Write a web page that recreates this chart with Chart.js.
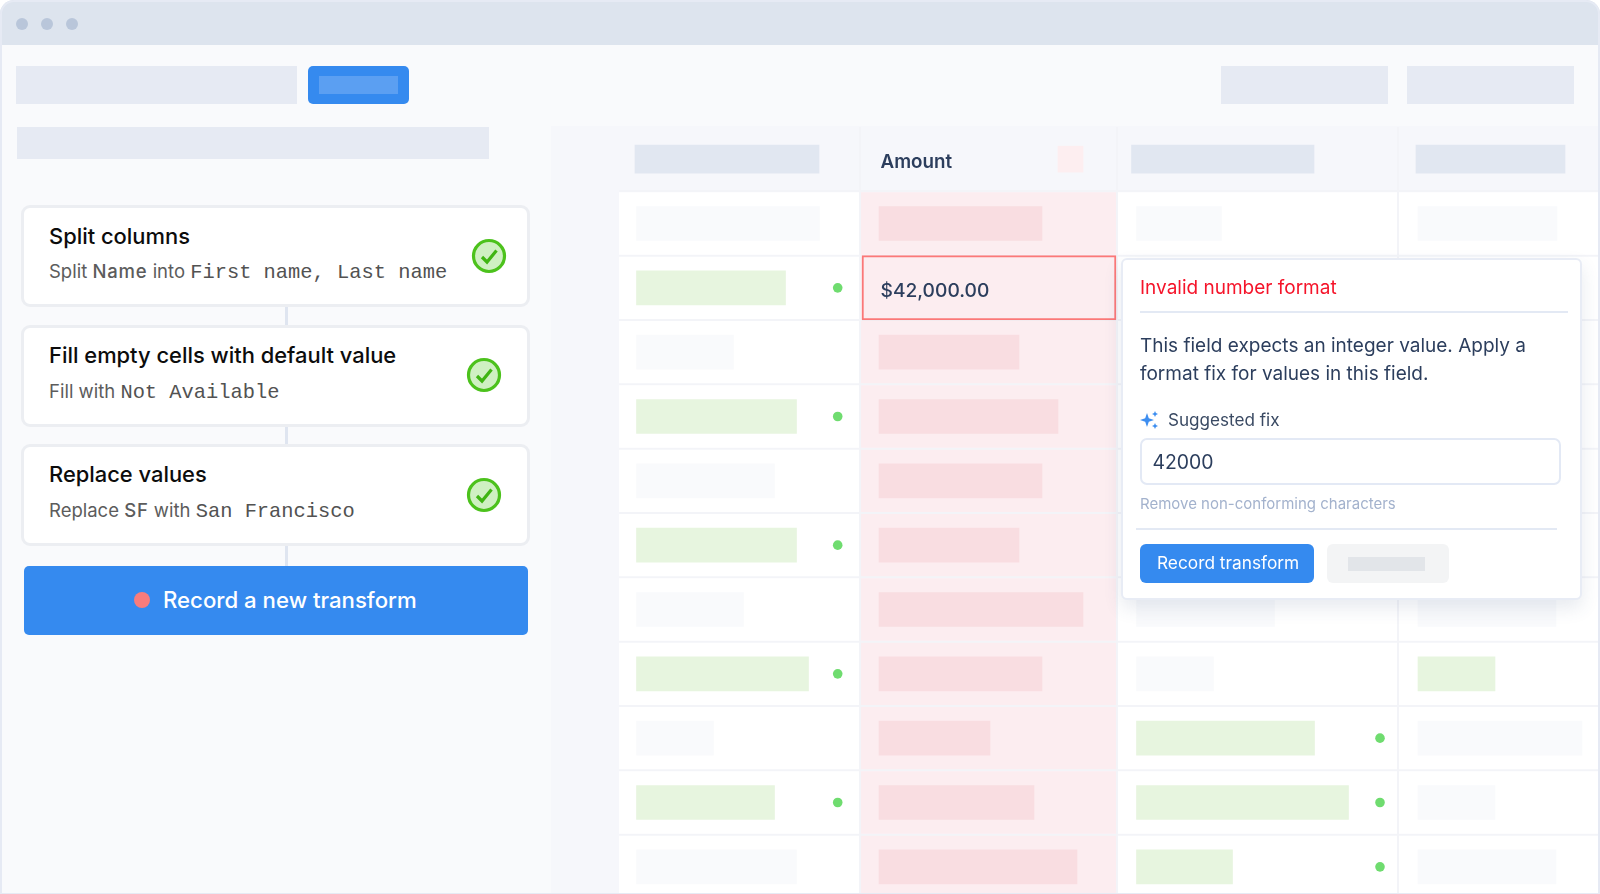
<!DOCTYPE html>
<html>
<head>
<meta charset="utf-8">
<script src="https://cdn.jsdelivr.net/npm/chart.js@4"></script>
<style>
  html, body { margin: 0; width: 1600px; height: 894px; overflow: hidden; background: #fff; font-family: Inter, sans-serif; }
  #app { position: absolute; inset: 0; background: #f9fafc; border-radius: 14px 14px 0 0; overflow: hidden; }
  #app > *, #popover > * { position: absolute; }
  .sk { background: #e6eaf3; }
  .frame { inset: 0; border: 2px solid #e6eaf4; border-bottom-width: 1px; border-radius: 14px 14px 0 0; pointer-events: none; }
  .bar { left: 0; top: 0; width: 1600px; height: 45px; background: #dde4ee; }
  .dot { width: 12px; height: 12px; top: 18px; border-radius: 50%; background: #b9c6da; }
  .tableBg { left: 551px; top: 126px; width: 1049px; height: 768px; background: #f6f7fb; }
  canvas { position: absolute; left: 551px; top: 127px; }
  .card { box-sizing: border-box; left: 21px; width: 509px; height: 102px; background: #fff; border: 3px solid #eceef2; border-radius: 9px; }
  .link { left: 284.5px; width: 3px; height: 22px; background: #dfe5f0; }
  .txt { white-space: nowrap; transform: translateY(-50%); line-height: 1.2; }
  .title { left: 49px; font-size: 21.9px; font-weight: 500; color: #0c0c0c; }
  .sub { left: 49px; font-size: 18.5px; color: #5c5c5c; }
  .sub b { font-weight: 500; letter-spacing: 0.8px; }
  .sub code { font-family: "Liberation Mono", monospace; font-size: 20.4px; color: #525252; }
  .check { width: 36px; height: 36px; }
  .main { left: 23.5px; top: 566px; width: 504.5px; height: 69px; background: #358aef; border-radius: 5px; }
  #popover { left: 1121px; top: 258px; width: 461px; height: 342px; box-sizing: border-box; background: #fff; border: 2px solid #e8ecf5; border-radius: 6px; box-shadow: 0 8px 18px rgba(60,80,120,.12); }
  .hr { height: 2px; background: #e3e9f4; }
  .para { color: #2c3e5d; font-size: 19px; }
</style>
</head>
<body>
<div id="app">
  <div class="bar"></div>
  <div class="dot" style="left:16px"></div><div class="dot" style="left:41px"></div><div class="dot" style="left:66px"></div>

  <div class="sk" style="left:15.5px;top:66px;width:281.5px;height:38px"></div>
  <div style="left:308px;top:66px;width:101px;height:38px;background:#358aef;border-radius:5px"></div>
  <div style="left:319px;top:75.5px;width:79px;height:18px;background:#5b9ff2"></div>
  <div class="sk" style="left:1221px;top:66px;width:167px;height:38px"></div>
  <div class="sk" style="left:1407px;top:66px;width:167px;height:38px"></div>
  <div class="sk" style="left:17px;top:127px;width:472px;height:32px"></div>

  <div class="tableBg"></div>
  <canvas id="tableChart" width="1049" height="772"></canvas>

  <div class="txt" style="left:880.5px;top:162px;font-size:18.8px;font-weight:600;color:#2c3e5d">Amount</div>
  <div class="txt" style="left:880.5px;top:291px;font-size:19.2px;font-weight:500;color:#2c3e5d">$42,000.00</div>

  <div class="link" style="top:305px"></div>
  <div class="link" style="top:425px"></div>
  <div class="link" style="top:545px"></div>

  <div class="card" style="top:205px"></div>
  <div class="txt title" style="top:236px">Split columns</div>
  <div class="txt sub" style="top:273px">Split <b>Name</b> into <code>First name, Last name</code></div>
  <svg class="check" style="left:471px;top:238px" viewBox="0 0 36 36"><circle cx="18" cy="18" r="15.5" fill="#cff0c2" stroke="#4cc21c" stroke-width="3.2"/><path d="M11 19l5 5 9.500-11.500" fill="none" stroke="#3fb512" stroke-width="3.2"/></svg>

  <div class="card" style="top:324.5px"></div>
  <div class="txt title" style="top:355px">Fill empty cells with default value</div>
  <div class="txt sub" style="top:393px">Fill with <code>Not Available</code></div>
  <svg class="check" style="left:466px;top:357px" viewBox="0 0 36 36"><circle cx="18" cy="18" r="15.5" fill="#cff0c2" stroke="#4cc21c" stroke-width="3.2"/><path d="M11 19l5 5 9.500-11.500" fill="none" stroke="#3fb512" stroke-width="3.2"/></svg>

  <div class="card" style="top:444px"></div>
  <div class="txt title" style="top:474px">Replace values</div>
  <div class="txt sub" style="top:512px">Replace <b>SF</b> with <code>San Francisco</code></div>
  <svg class="check" style="left:466px;top:477px" viewBox="0 0 36 36"><circle cx="18" cy="18" r="15.5" fill="#cff0c2" stroke="#4cc21c" stroke-width="3.2"/><path d="M11 19l5 5 9.500-11.500" fill="none" stroke="#3fb512" stroke-width="3.2"/></svg>

  <div class="main"></div>
  <div style="left:134px;top:592px;width:16px;height:16px;border-radius:50%;background:#f87c7c"></div>
  <div class="txt" style="left:163px;top:600px;font-size:22.2px;font-weight:500;color:#fff">Record a new transform</div>

  <div id="popover">
    <div class="txt" style="left:17px;top:27.5px;font-size:19px;color:#f5142a">Invalid number format</div>
    <div class="hr" style="left:17px;top:51px;width:428px"></div>
    <div class="txt para" style="left:17px;top:86px">This field expects an integer value. Apply a</div>
    <div class="txt para" style="left:17px;top:114px">format fix for values in this field.</div>
    <svg style="left:17px;top:150px" width="20" height="20" viewBox="0 0 20 20" fill="#3d8ef0"><path d="M7 3l1.8 5.2L14 10l-5.2 1.8L7 17l-1.8-5.2L0 10l5.2-1.8z"/><path d="M15 1l.9 2.1L18 4l-2.1.9L15 7l-.9-2.1L12 4l2.1-.9zM15 13l.9 2.1L18 16l-2.1.9L15 19l-.9-2.1L12 16l2.1-.9z"/></svg>
    <div class="txt" style="left:45px;top:160px;font-size:17.1px;color:#3a4a63">Suggested fix</div>
    <div style="left:17px;top:178px;width:421px;height:47px;box-sizing:border-box;border:2px solid #e3e9f5;border-radius:7px"></div>
    <div class="txt" style="left:29.5px;top:202.5px;font-size:19.4px;color:#2c3e5d">42000</div>
    <div class="txt" style="left:17px;top:244px;font-size:15px;color:#a3b2cd">Remove non-conforming characters</div>
    <div class="hr" style="left:13px;top:268px;width:421px"></div>
    <div style="left:17px;top:284px;width:174px;height:39px;background:#358aef;border-radius:6px"></div>
    <div class="txt" style="left:34px;top:303px;font-size:17.3px;color:#fff">Record transform</div>
    <div style="left:204px;top:284px;width:122px;height:39px;background:#f3f4f5;border-radius:6px"></div>
    <div style="left:225px;top:297px;width:77px;height:14px;background:#e2e5e9"></div>
  </div>
  <div class="frame"></div>
</div>

<script>
const rows = ["head", "r1", "r2", "r3", "r4", "r5", "r6", "r7", "r8", "r9", "r10", "r11"];

// cell lengths per column, null where there is no cell or the popover hides it
const nameLengths = [183, 149, 97, 160, 138, 160, 107, 172, 77, 138, 160];
const amountLengths = [163, null, 140, 179, 163, 140, 204, 163, 111, 155, 198];
const thirdLengths = [85, null, null, null, null, null, 138, 77, 178, 212, 96];
const fourthLengths = [139, null, null, null, null, null, 138, 77, 164, 77, 138];
const headerLengths = [184, 182.5, 149];

// rows whose cell passed validation (green) and get a dot
const nameOkRows = ["r2", "r4", "r6", "r8", "r10"];
const thirdOkRows = ["r9", "r10", "r11"];
const fourthOkRows = ["r8"];

const invalidRow = "r2";

const colEdges = [860, 1117, 1398];
const tableLeft = 619, tableRight = 1600;

const GREEN = "#e7f5df", GREY = "#f9fafc", ROSE = "#f9dde1", HEAD = "#e1e7f1", PINK = "#fcedf0";

function spans(left, lengths) {
  return [null].concat(lengths.map(l => l === null ? null : [left, left + l]));
}
function cells(from, to) {
  return rows.map(r => r === "head" ? null : [from, to]);
}
function okColor(okRows) {
  return ctx => okRows.includes(rows[ctx.dataIndex]) ? GREEN : GREY;
}
function bar(data, color, extra) {
  return Object.assign({ type: "bar", indexAxis: "y", grouped: false, barThickness: 34, data: data, backgroundColor: color }, extra);
}
// table cell backgrounds leave a hairline so the grid shows between them
function cell(from, to, color) {
  return bar(cells(from, to), color, { order: 9, barThickness: undefined, barPercentage: 1, categoryPercentage: 0.97 });
}

const chart = new Chart(document.getElementById("tableChart"), {
  data: {
    labels: rows,
    datasets: [
      bar(rows.map(() => [551, tableLeft]), "#f6f7fb", { order: 10, barThickness: undefined, barPercentage: 1, categoryPercentage: 1 }),
      cell(tableLeft, colEdges[0] - 1, "#fff"),
      cell(colEdges[0] + 1, colEdges[1] - 1, PINK),
      cell(colEdges[1] + 1, colEdges[2] - 1, "#fff"),
      cell(colEdges[2] + 1, tableRight, "#fff"),
      bar(rows.map(r => r === invalidRow ? [colEdges[0] + 2, colEdges[1] - 1] : null), PINK,
        { order: 8, borderColor: "#fb7878", borderWidth: 2, borderSkipped: false, barThickness: undefined, barPercentage: 1, categoryPercentage: 1 }),
      bar(spans(636.5, nameLengths), okColor(nameOkRows), { order: 5 }),
      bar(spans(879, amountLengths), ROSE, { order: 5 }),
      bar(spans(1136.5, thirdLengths), okColor(thirdOkRows), { order: 5 }),
      bar(spans(1418, fourthLengths), okColor(fourthOkRows), { order: 5 }),
      bar([[635, 635 + headerLengths[0]]], HEAD, { order: 5, barThickness: 28 }),
      bar([[1131.5, 1131.5 + headerLengths[1]]], HEAD, { order: 5, barThickness: 28 }),
      bar([[1416, 1416 + headerLengths[2]]], HEAD, { order: 5, barThickness: 28 }),
      bar([[1058, 1083]], "#fdeef0", { order: 5, barThickness: 26 }),
      {
        type: "scatter",
        order: 1,
        data: nameOkRows.map(r => ({ x: 837.7, y: r })).concat(thirdOkRows.map(r => ({ x: 1380, y: r }))),
        pointRadius: 4.8,
        pointBackgroundColor: "#6fdc6f",
        pointBorderWidth: 0
      }
    ]
  },
  options: {
    responsive: false,
    animation: false,
    events: [],
    layout: { padding: 0, autoPadding: false },
    plugins: { legend: { display: false }, tooltip: { enabled: false } },
    scales: {
      x: {
        type: "linear",
        min: 551,
        max: 1600,
        border: { display: false },
        ticks: { display: false },
        grid: { color: "#f3f4f8", lineWidth: 2, drawTicks: false },
        afterBuildTicks: axis => { axis.ticks = colEdges.map(v => ({ value: v })); }
      },
      y: {
        type: "category",
        labels: rows,
        offset: true,
        border: { display: false },
        ticks: { display: false },
        grid: { offset: true, color: ctx => ctx.index === 0 ? "rgba(0,0,0,0)" : "#f3f4f8", lineWidth: 2, drawTicks: false }
      }
    }
  }
});
</script>
</body>
</html>
